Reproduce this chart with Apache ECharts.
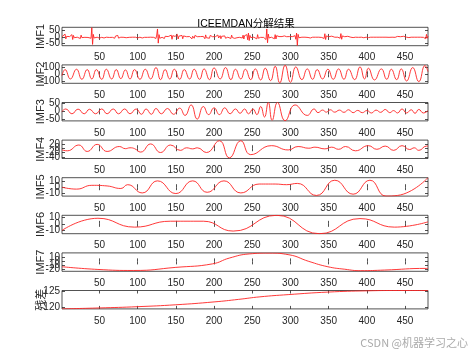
<!DOCTYPE html>
<html><head><meta charset="utf-8">
<script src="https://cdn.jsdelivr.net/npm/echarts@6/dist/echarts.min.js"></script>
<style>html,body{margin:0;padding:0;background:#fff}#c{width:474px;height:355px}</style>
</head><body><div id="c"></div><script>
// ---- data ----
const titleText = 'ICEEMDAN分解结果';
const panelNames = ['IMF1','IMF2','IMF3','IMF4','IMF5','IMF6','IMF7','残差'];
const xTicks = [50,100,150,200,250,300,350,400,450];
const xRange = [1, 480];
const yRanges = [[-68,75],[-135,140],[-59,55],[-48,38],[-14,15],[-15,13],[-24,20.5],[119.5,125.3]];
const yTickValues = [[-50,0,50],[-100,0,100],[-50,0,50],[-40,-20,0,20],[-10,0,10],[-10,0,10],[-20,-10,0,10],[120,125]];

const imf1 = [[1,2],[3,-3],[5,22],[6,-15],[7,4],[9,-2],[11,3],[13,-4],[14,18],[15,-20],[16,12],[17,-6],[19,3],[21,-2],[23,4],[25,-12],[26,14],[27,-5],[29,3],[31,-3],[33,2],[35,-4],[37,3],[39,-10],[40,72],[41,-58],[42,20],[43,-8],[45,3],[47,-2],[49,8],[50,-9],[51,5],[53,-3],[55,10],[56,-8],[57,4],[59,-2],[61,3],[63,-4],[65,2],[67,-3],[69,9],[70,-10],[71,7],[72,-4],[74,12],[75,-9],[76,3],[78,-2],[80,3],[82,-3],[84,7],[85,-6],[87,2],[89,-3],[91,2],[93,-2],[95,3],[97,-2],[99,6],[100,-7],[101,3],[103,-2],[105,8],[106,-8],[107,2],[109,-3],[111,2],[113,-3],[115,2],[117,-2],[119,4],[121,-3],[123,5],[124,-12],[125,15],[126,62],[127,-48],[128,18],[129,-10],[130,4],[132,-3],[134,10],[135,-12],[136,5],[138,-2],[140,3],[142,-4],[144,14],[145,-18],[146,10],[147,-3],[149,4],[151,-8],[152,20],[153,-16],[154,6],[156,-3],[158,12],[159,-14],[160,8],[162,-3],[164,2],[166,-4],[168,3],[170,14],[171,-15],[172,6],[174,-10],[175,12],[176,-3],[178,2],[180,-3],[182,3],[184,-2],[186,4],[188,-14],[189,16],[190,-6],[192,3],[194,-10],[195,12],[196,-3],[198,2],[200,-3],[202,3],[204,-12],[205,15],[206,-8],[208,10],[209,-14],[210,5],[212,-3],[214,8],[215,-10],[216,4],[218,-2],[220,3],[222,-12],[223,14],[224,-5],[226,9],[227,-11],[228,4],[230,-6],[231,8],[233,-3],[235,2],[237,-8],[238,14],[239,-16],[240,10],[241,-4],[243,18],[244,-22],[245,30],[246,-28],[247,12],[248,-5],[250,3],[252,-2],[254,4],[256,-15],[257,18],[258,-10],[259,4],[261,-3],[263,2],[265,-4],[267,6],[268,-20],[269,62],[270,-45],[271,22],[272,-8],[273,3],[275,-2],[277,4],[279,-14],[280,18],[281,-16],[282,10],[283,-4],[285,3],[287,-2],[289,3],[291,-6],[292,8],[293,-3],[295,2],[297,-2],[299,3],[301,-2],[303,3],[305,-4],[306,10],[307,-18],[308,30],[309,-66],[310,20],[311,-6],[313,3],[315,-2],[317,3],[319,-2],[321,3],[323,-4],[325,8],[326,-8],[327,3],[329,-2],[331,2],[333,-2],[335,3],[337,-2],[339,3],[341,-4],[343,10],[344,-12],[345,25],[346,-20],[347,8],[348,-3],[350,2],[352,-3],[354,6],[355,-7],[356,3],[358,-2],[360,3],[362,-2],[364,4],[365,-10],[366,26],[367,-18],[368,8],[369,-3],[371,2],[373,-2],[375,5],[376,-6],[377,3],[379,-2],[381,5],[382,-5],[383,2],[385,-2],[387,2],[389,-3],[391,2],[393,-2],[395,5],[396,-6],[397,3],[399,-2],[401,4],[402,-5],[403,2],[405,-2],[407,2],[409,-2],[411,2],[413,-2],[415,2],[417,-2],[419,2],[421,-2],[423,2],[425,-2],[427,2],[429,-3],[431,2],[433,-2],[435,2],[437,-3],[438,7],[439,-8],[440,4],[442,-2],[444,2],[446,-3],[448,5],[449,-6],[450,3],[452,-2],[454,4],[455,-5],[456,3],[458,-2],[460,2],[462,-2],[464,2],[466,-2],[468,2],[470,-2],[472,2],[474,-3],[476,5],[477,-14],[478,20],[479,-10],[480,5]];

const imf2 = [[1,-20],[5,70],[12,-70],[20,75],[27,-75],[34,70],[40,-70],[46,70],[53,-75],[59,75],[66,-70],[72,70],[78,-65],[84,65],[90,-70],[96,70],[103,-75],[110,75],[117,-70],[124,100],[130,-80],[136,70],[142,-70],[148,75],[155,-75],[161,70],[168,-70],[174,75],[181,-75],[187,80],[194,-80],[200,95],[208,-70],[215,100],[222,-80],[228,75],[235,-70],[241,75],[248,-80],[254,80],[261,-85],[267,90],[274,-95],[280,120],[286,-130],[293,135],[300,-120],[307,110],[315,-80],[322,80],[329,-75],[335,70],[342,-70],[349,75],[356,-75],[363,80],[370,-75],[376,75],[384,-80],[391,110],[397,-70],[402,90],[410,-85],[419,80],[426,-75],[432,75],[439,-80],[445,80],[452,-100],[460,100],[468,-110],[476,130],[480,40]];

const imf3 = [[1,0],[6,15],[14,-15],[22,14],[30,-15],[37,13],[45,-15],[53,15],[60,-15],[68,15],[75,-15],[83,15],[90,-15],[98,15],[105,-18],[111,15],[118,-18],[124,18],[131,-15],[139,18],[147,-18],[155,20],[162,-25],[170,40],[178,-48],[186,30],[193,-20],[200,22],[207,-20],[214,22],[221,-15],[228,15],[234,-12],[240,15],[245,-15],[251,15],[256,-20],[261,30],[266,-35],[271,55],[276,-55],[283,55],[293,-58],[306,40],[322,-25],[331,15],[336,-8],[342,8],[347,-5],[352,10],[358,-5],[364,8],[370,-6],[376,10],[382,-8],[388,6],[394,-8],[400,5],[406,-10],[412,8],[418,-6],[424,12],[430,-8],[435,5],[440,-10],[446,15],[452,-10],[458,10],[463,-12],[468,12],[474,-10],[480,5]];

const imf4 = [[1,-8],[8,-12],[23,15],[34,-15],[47,18],[60,-15],[76,8],[84,-2],[90,2],[96,-2],[104,-18],[117,20],[130,-20],[143,15],[156,-10],[164,2],[172,-3],[178,2],[190,-20],[207,35],[220,-45],[235,35],[248,-30],[275,12],[297,-8],[310,8],[324,0],[332,5],[345,-3],[354,5],[363,-5],[372,8],[385,-12],[402,12],[413,-5],[424,10],[435,-10],[446,12],[456,-6],[462,2],[468,-10],[478,10],[480,10]];

const imf5 = [[1,0],[20,-3],[40,3],[60,2],[78,-2],[87,4],[106,-9],[126,10],[150,-10],[172,10],[191,-8],[213,10],[235,-9],[259,5],[280,5],[295,4],[309,6],[334,-13],[358,11],[382,-11],[404,11],[425,-14],[440,-13],[480,15]];

const imf6 = [[1,-10],[48,8.5],[96,-5],[143,4],[186,4],[225,-11],[282,13],[338,-15],[391,8],[436,-5],[480,3]];

const imf7 = [[1,-13],[48,-19.5],[95,-22],[150,-14.5],[198,-6],[220,8],[246,18],[272,20],[298,16],[324,0],[349,-13],[371,-19],[392,-22.5],[423,-21],[478,-17],[480,-17]];

const residual = [[1,119.5],[50,119.8],[100,120.2],[150,120.8],[200,121.7],[232,122.5],[260,123.3],[297,124.0],[349,124.8],[401,125.2],[440,125.3],[480,125.3]];

const seriesData = [imf1, imf2, imf3, imf4, imf5, imf6, imf7, residual];

// ---- layout ----
const firstTop = 27.3, pitch = 37.6, panelH = 18.4, left = 62, right = 46;
const axisColor = '#262626';
const lineColor = '#f22';
const fontFam = 'Liberation Sans, Arial, Helvetica, sans-serif';
const tickStyle = {color: axisColor, width: 0.8};

const grid = [], xAxis = [], yAxis = [], series = [];
panelNames.forEach((name, k) => {
  grid.push({left: left, right: right, top: firstTop + k * pitch, height: panelH,
    show: true, borderColor: axisColor, borderWidth: 0.8, backgroundColor: '#fff'});
  const xBase = {type: 'value', gridIndex: k, min: xRange[0], max: xRange[1],
    splitLine: {show: false}, axisLine: {show: false}};
  const xIdx = xAxis.length;
  xAxis.push(Object.assign({}, xBase, {position: 'bottom',
    axisTick: {show: true, inside: true, length: 3, lineStyle: tickStyle, customValues: xTicks},
    axisLabel: {show: true, fontSize: 10, color: axisColor, fontFamily: fontFam, margin: 7,
      hideOverlap: false, interval: 0, customValues: xTicks}}));
  xAxis.push(Object.assign({}, xBase, {position: 'top',
    axisTick: {show: true, inside: true, length: 3, lineStyle: tickStyle, customValues: xTicks},
    axisLabel: {show: false}}));
  const yBase = {type: 'value', gridIndex: k, min: yRanges[k][0], max: yRanges[k][1],
    splitLine: {show: false}, axisLine: {show: false}};
  const yIdx = yAxis.length;
  // primary left axis: ticks + name
  yAxis.push(Object.assign({}, yBase, {position: 'left',
    name: name, nameLocation: 'middle', nameRotate: 90, nameGap: 16, nameMoveOverlap: false,
    nameTextStyle: {fontSize: 11, color: axisColor,
      fontFamily: k === 7 ? 'Noto Sans CJK SC, sans-serif' : fontFam},
    axisTick: {show: true, inside: true, length: 3, lineStyle: tickStyle, customValues: yTickValues[k]},
    axisLabel: {show: false}}));
  // right axis: ticks only
  yAxis.push(Object.assign({}, yBase, {position: 'right',
    axisTick: {show: true, inside: true, length: 3, lineStyle: tickStyle, customValues: yTickValues[k]},
    axisLabel: {show: false}}));
  // one label axis per tick value so tightly packed labels (as in the original) all stay visible
  yTickValues[k].forEach(v => {
    yAxis.push(Object.assign({}, yBase, {position: 'left',
      axisTick: {show: false},
      axisLabel: {show: true, fontSize: 10, color: axisColor, fontFamily: fontFam, margin: 2,
        customValues: [v]}}));
  });
  series.push({type: 'line', xAxisIndex: xIdx, yAxisIndex: yIdx, data: seriesData[k],
    showSymbol: false, smooth: k === 0 ? false : 0.5, animation: false,
    lineStyle: {color: lineColor, width: 0.9}, clip: true});
});

const chart = echarts.init(document.getElementById('c'), null, {renderer: 'canvas'});
chart.setOption({
  animation: false,
  backgroundColor: '#fff',
  title: {text: titleText, left: 241, top: 14, textAlign: 'center',
    textStyle: {fontSize: 10.5, fontWeight: 'normal', color: '#000', fontFamily: 'Liberation Sans, Noto Sans CJK SC, sans-serif'}},
  graphic: [{type: 'text', right: 6, top: 337,
    style: {text: 'CSDN @机器学习之心', fontSize: 11, fill: '#aaa', fontFamily: 'Noto Sans CJK SC, sans-serif'}}],
  grid: grid, xAxis: xAxis, yAxis: yAxis, series: series
});
</script></body></html>
